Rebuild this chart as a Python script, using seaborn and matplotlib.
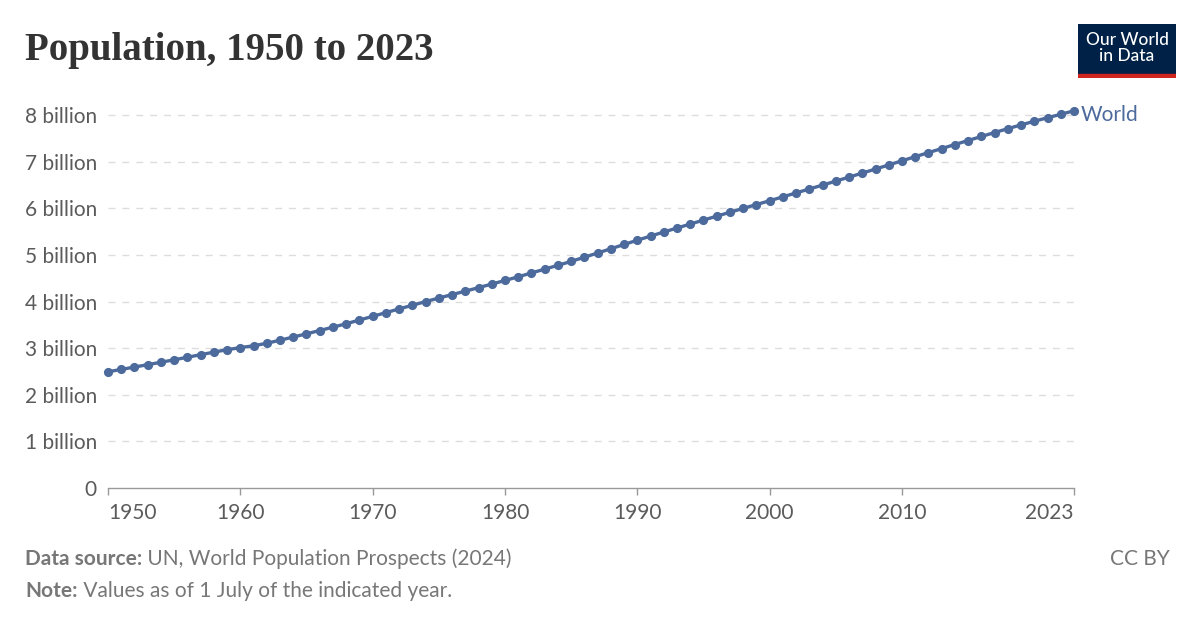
import matplotlib
matplotlib.use("Agg")
import matplotlib.pyplot as plt
import seaborn as sns
import pandas as pd
from matplotlib.patches import Rectangle
from matplotlib.transforms import offset_copy

years = list(range(1950, 2024))
population_billion = [
    2.493, 2.543, 2.594, 2.645, 2.697, 2.750, 2.804, 2.859, 2.914, 2.966,
    3.011, 3.050, 3.104, 3.170, 3.238, 3.307, 3.378, 3.449, 3.523, 3.603,
    3.681, 3.761, 3.841, 3.920, 3.998, 4.074, 4.148, 4.222, 4.297, 4.374,
    4.451, 4.530, 4.612, 4.694, 4.776, 4.860, 4.950, 5.040, 5.131, 5.223,
    5.314, 5.403, 5.490, 5.576, 5.661, 5.746, 5.830, 5.914, 5.997, 6.079,
    6.161, 6.245, 6.329, 6.413, 6.497, 6.582, 6.668, 6.754, 6.841, 6.929,
    7.018, 7.106, 7.193, 7.280, 7.367, 7.453, 7.539, 7.624, 7.707, 7.788,
    7.866, 7.941, 8.015, 8.091,
]
entity = "World"
y_ticks = [0, 1, 2, 3, 4, 5, 6, 7, 8]
y_tick_labels = ["0", "1 billion", "2 billion", "3 billion", "4 billion",
                 "5 billion", "6 billion", "7 billion", "8 billion"]
x_ticks = [1950, 1960, 1970, 1980, 1990, 2000, 2010, 2023]
x_tick_labels = ["1950", "1960", "1970", "1980", "1990", "2000", "2010", "2023"]

title = "Population, 1950 to 2023"
source_bold = "Data source:"
source_text = " UN, World Population Prospects (2024)"
note_bold = "Note:"
note_text = " Values as of 1 July of the indicated year."
license_text = "CC BY"

df = pd.DataFrame({"year": years, "population": population_billion, "entity": entity})

sns.set_theme(style="white")
plt.rcParams["font.family"] = ["Lato", "DejaVu Sans"]

LINE = "#4C6A9C"
TEXT = "#5b5b5b"
FOOT = "#777777"

W, H = 1200, 627
fig = plt.figure(figsize=(W / 100, H / 100), dpi=100)
fig.patch.set_facecolor("white")

x0, x1 = 108, 1074
y_zero = 488
px_per_b = 46.625
ymax = 8.1
y_top = y_zero - ymax * px_per_b
ax = fig.add_axes([x0 / W, 1 - y_zero / H, (x1 - x0) / W, (y_zero - y_top) / H])

sns.lineplot(data=df, x="year", y="population", ax=ax, color=LINE,
             linewidth=2.4, marker="o", markersize=6.6, markeredgewidth=0,
             clip_on=False, zorder=5, legend=False)

ax.set_xlim(1950, 2023)
ax.set_ylim(0, ymax)
ax.set_yticks(y_ticks)
ax.set_yticklabels(y_tick_labels)
ax.set_xticks(x_ticks)
ax.set_xticklabels(x_tick_labels)
ax.set_xlabel("")
ax.set_ylabel("")

for v in y_ticks[1:]:
    ax.axhline(v, color="#dddddd", linewidth=1, linestyle=(0, (5, 5)), zorder=1)

for s in ["top", "right", "left"]:
    ax.spines[s].set_visible(False)
ax.spines["bottom"].set_color("#999999")
ax.spines["bottom"].set_linewidth(1)

ax.tick_params(axis="y", length=0, pad=8, labelsize=15, labelcolor=TEXT)
ax.tick_params(axis="x", length=5, width=1, color="#999999", pad=6,
               labelsize=15, labelcolor=TEXT, bottom=True)
for lab in ax.get_yticklabels():
    lab.set_horizontalalignment("right")
xl = ax.get_xticklabels()
xl[0].set_horizontalalignment("left")
xl[-1].set_horizontalalignment("right")

lab_tr = offset_copy(ax.transData, fig=fig, x=7, y=-4, units="dots")
ax.text(2023, population_billion[-1], entity, color=LINE, fontsize=15,
        va="center", ha="left", clip_on=False, transform=lab_tr)

# title
fig.text(25 / W, 1 - 60 / H, title, fontsize=28, fontweight="bold",
         family=["Liberation Serif", "DejaVu Serif"], color="#333333",
         va="baseline", ha="left")

# logo
logo_ax = fig.add_axes([1078 / W, 1 - 78 / H, 98 / W, 54 / H])
logo_ax.set_xlim(0, 98)
logo_ax.set_ylim(0, 54)
logo_ax.axis("off")
logo_ax.add_patch(Rectangle((0, 4), 98, 50, color="#002147"))
logo_ax.add_patch(Rectangle((0, 0), 98, 4, color="#CE261E"))
logo_ax.text(49, 30, "Our World\nin Data", color="white", fontsize=12.5,
             ha="center", va="center", linespacing=0.95, fontweight="medium")

# footer
def footer(y, bold, rest):
    t = fig.text(25 / W, 1 - y / H, bold, fontsize=15, fontweight="bold",
                 color=FOOT, va="baseline", ha="left")
    fig.canvas.draw()
    bb = t.get_window_extent()
    fig.text(bb.x1 / W, 1 - y / H, rest, fontsize=15, color=FOOT,
             va="baseline", ha="left")

footer(565, source_bold, source_text)
footer(597, note_bold, note_text)
fig.text(1170 / W, 1 - 565 / H, license_text, fontsize=15, color=FOOT,
         va="baseline", ha="right")

fig.savefig("out.png", dpi=100, facecolor="white")
